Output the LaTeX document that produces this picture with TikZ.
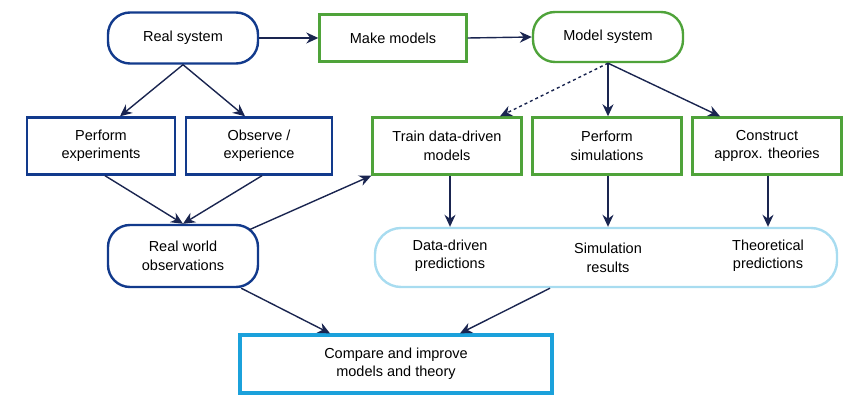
\documentclass[tikz,border=0pt]{standalone}
\usepackage{fontspec}
\setmainfont{Liberation Sans}
\usetikzlibrary{arrows.meta}
\definecolor{dblue}{HTML}{123A8C}
\definecolor{grn}{HTML}{4FA33A}
\definecolor{lblue}{HTML}{A8DCF0}
\definecolor{cyan2}{HTML}{1BA1DB}
\definecolor{arr}{HTML}{1A2550}
\newcommand\fnt{\fontsize{14.5}{18.5}\selectfont}
\begin{document}
\begin{tikzpicture}[x=1pt,y=-1pt,
  box/.style={draw,line width=2.4pt,minimum width=#1,align=center,font=\fnt,inner sep=0pt},
  rb/.style={box=150pt,rounded corners=22pt,minimum height=51pt},
  a/.style={-{Stealth[length=12pt,width=11pt]},arr,line width=1.4pt}]
\useasboundingbox (0,0) rectangle (864,419);
\node[rb,dblue,text=black] (rs) at (183,38) {Real system};
\node[box=147pt,grn,text=black,minimum height=47pt] (mm) at (393,38) {Make models};
\node[rb,grn,text=black,minimum height=50pt] (ms) at (608,37) {Model system};
\node[box=148pt,dblue,text=black,minimum height=57pt] (pe) at (101,146) {Perform\\experiments};
\node[box=146pt,dblue,text=black,minimum height=57pt] (oe) at (259,146) {Observe /\\experience};
\node[box=149pt,grn,text=black,minimum height=57pt] (td) at (447,146) {Train data-driven\\models};
\node[box=149pt,grn,text=black,minimum height=57pt] (ps) at (607,146) {Perform\\simulations};
\node[box=149pt,grn,text=black,minimum height=57pt] (ca) at (767,146) {Construct\\approx. theories};
\node[rb,dblue,text=black,minimum height=62pt] (rw) at (183,256) {Real world\\observations};
\node[box=462pt,lblue,rounded corners=26pt,minimum height=59pt] (big) at (606,257.5) {};
\node[font=\fnt,align=center] (dp) at (450,256) {Data-driven\\predictions};
\node[font=\fnt,align=center] (sr) at (608,258) {Simulation\\results};
\node[font=\fnt,align=center] (tp) at (768,256) {Theoretical\\predictions};
\node[box=312pt,cyan2,text=black,minimum height=58pt,line width=3.2pt] (cm) at (396,364) {Compare and improve\\models and theory};
\draw[a] (rs.east) -- (mm.west);
\draw[a] (mm.east) -- (ms.west);
\draw[a] (rs.south) -- (pe.north -| 120,0);
\draw[a] (rs.south) -- (oe.north -| 245,0);
\draw[a,dashed] (ms.south) -- (td.north -| 500,0);
\draw[a] (ms.south) -- (ps.north -| ms.south);
\draw[a] (ms.south) -- (ca.north -| 720,0);
\draw[a] (pe.south -| 105,0) -- (rw.north);
\draw[a] (oe.south -| 262,0) -- (rw.north);
\draw[a] (rw.north east) ++(-10,6) -- (td.south west);
\draw[a] (td.south -| 450,0) -- (big.north -| 450,0);
\draw[a] (ps.south -| 608,0) -- (big.north -| 608,0);
\draw[a] (ca.south -| 768,0) -- (big.north -| 768,0);
\draw[a] (rw.south east) ++(-18,0) -- (cm.north -| 330,0);
\draw[a] (big.south -| 550,0) -- (cm.north -| 460,0);
\end{tikzpicture}
\end{document}
